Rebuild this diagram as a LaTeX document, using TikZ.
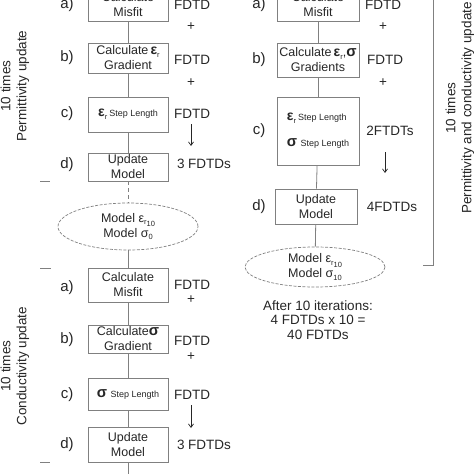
\documentclass[tikz,border=0pt]{standalone}
\usepackage{fontspec}
\setmainfont{Liberation Sans}
\usetikzlibrary{arrows.meta,shapes.geometric}
\definecolor{txt}{gray}{0.15}
\definecolor{linegray}{gray}{0.5}
\newcommand\myboxfont{\fontsize{12.5}{15}\selectfont}
\newcommand\mylabfont{\fontsize{15}{18}\selectfont}
\newcommand\myfdfont{\fontsize{13.5}{15}\selectfont}
\newcommand\mysmall{\fontsize{9}{10}\selectfont}
\newcommand\myeps{{\fontsize{14}{15}\selectfont\textbf{ε}}}
\newcommand\mysig{{\fontsize{15}{15}\selectfont\textbf{σ}}}
\newcommand\mysub[1]{\raisebox{-0.45ex}{\fontsize{7.5}{8}\selectfont #1}}
\begin{document}
\begin{tikzpicture}[x=1pt,y=-1pt,
  box/.style={draw=linegray, line width=0.8pt, minimum width=80pt, inner sep=1pt, align=center, font=\myboxfont, text=txt},
  lab/.style={font=\mylabfont, text=txt, inner sep=0pt},
  fd/.style={font=\myfdfont, text=txt, inner sep=0pt},
  conn/.style={draw=linegray, line width=0.8pt},
  tick/.style={draw=linegray, line width=0.8pt},
  arr/.style={draw=txt, line width=0.7pt, -{Straight Barb[length=3.5pt,width=5pt]}},
  ell/.style={ellipse, draw=linegray, line width=0.7pt, dash pattern=on 3pt off 1.5pt, inner sep=0pt, align=center, font=\myboxfont, text=txt},
  rot/.style={rotate=90, align=center, font=\fontsize{13.5}{16}\selectfont, text=txt, inner sep=0pt}
]
\clip (0,0) rectangle (474,474);
\useasboundingbox (0,0) rectangle (474,474);

% ---------- left column ----------
\node[box, minimum height=32pt] (a1) at (128,5) {Calculate\\Misfit};
\node[lab] (la1) at (67,5) {a)};
\node[fd] (fa1) at (192,5) {FDTD};
\node[fd] (pa1) at (191,27) {+};

\node[box, minimum height=30pt] (b1) at (128,58) {Calculate\,\myeps\mysub{r}\\Gradient};
\node[lab] (lb1) at (67,58) {b)};
\node[fd] (fb1) at (192,60) {FDTD};
\node[fd] (pb1) at (191,83) {+};

\node[box, minimum height=35pt] (c1) at (128,114.5) {\myeps\mysub{r}\,{\mysmall Step Length}};
\node[lab] (lc1) at (67,114) {c)};
\node[fd] (fc1) at (192,114) {FDTD};
\coordinate (ar1s) at (191,124);
\coordinate (ar1e) at (191,146);

\node[box, minimum height=28pt] (d1) at (128,167) {Update\\Model};
\node[lab] (ld1) at (67,165) {d)};
\node[fd] (fd1) at (204,164) {3 FDTDs};

\node[ell, minimum width=140pt, minimum height=47pt] (e1) at (128,226.5)
  {Model ε\mysub{r\mysub{10}}\\Model σ\mysub{0}};

\node[box, minimum height=34pt] (a2) at (128,285) {Calculate\\Misfit};
\node[lab] (la2) at (67,288) {a)};
\node[fd] (fa2) at (192,285) {FDTD};
\node[fd] (pa2) at (191,300) {+};

\node[box, minimum height=28pt] (b2) at (128,339) {Calculate\mysig\\Gradient};
\node[lab] (lb2) at (67,340) {b)};
\node[fd] (fb2) at (192,341) {FDTD};
\node[fd] (pb2) at (191,357) {+};

\node[box, minimum height=32pt] (c2) at (128,394) {\mysig\ {\mysmall Step Length}};
\node[lab] (lc2) at (67,395) {c)};
\node[fd] (fc2) at (192,395) {FDTD};
\coordinate (ar2s) at (191,405);
\coordinate (ar2e) at (191,428);

\node[box, minimum height=35pt] (d2) at (128,444.5) {Update\\Model};
\node[lab] (ld2) at (67,445) {d)};
\node[fd] (fd2) at (204,445) {3 FDTDs};
\coordinate (bot) at (128,480);

\draw[conn] (a1) -- (b1);
\draw[conn] (b1) -- (c1);
\draw[conn] (c1) -- (d1);
\draw[conn, dash pattern=on 4pt off 3pt] (d1) -- (e1);
\draw[conn] (e1) -- (a2);
\draw[conn] (a2) -- (b2);
\draw[conn] (b2) -- (c2);
\draw[conn] (c2) -- (d2);
\draw[conn] (d2) -- (bot);
\draw[arr] (ar1s) -- (ar1e);
\draw[arr] (ar2s) -- (ar2e);

% left ticks
\coordinate (t1a) at (40,181); \coordinate (t1b) at (50,181);
\coordinate (t2a) at (40,268); \coordinate (t2b) at (51,268);
\coordinate (t3a) at (40,462); \coordinate (t3b) at (50,462);
\draw[tick] (t1a) -- (t1b);
\draw[tick] (t2a) -- (t2b);
\draw[tick] (t3a) -- (t3b);

\node[rot] (r1) at (15,86) {10 times\\Permittivity update};
\node[rot] (r2) at (15,366) {10 times\\Conductivity update};

% ---------- right column ----------
\node[box, minimum width=82pt, minimum height=32pt] (a3) at (318,5) {Calculate\\Misfit};
\node[lab] (la3) at (259,5) {a)};
\node[fd] (fa3) at (383,5) {FDTD};
\node[fd] (pa3) at (383,27) {+};

\node[box, minimum width=82pt, minimum height=34pt, inner sep=0pt] (b3) at (318,60)
  {Calculate\,\myeps\mysub{r},\mysig\\Gradients};
\node[lab] (lb3) at (259,60) {b)};
\node[fd] (fb3) at (385,60) {FDTD};
\node[fd] (pb3) at (383,83) {+};

\node[box, minimum width=82pt, minimum height=68pt, align=left] (c3) at (318,131)
  {\myeps\mysub{r}\,{\mysmall Step Length}\\[11pt]\mysig\ {\mysmall Step Length}};
\node[lab] (lc3) at (259,131) {c)};
\node[fd] (fc3) at (390,131) {2FTDTs};
\coordinate (ar3s) at (385,152);
\coordinate (ar3e) at (385,173);

\node[box, minimum width=82pt, minimum height=35pt] (d3) at (316,206.5) {Update\\Model};
\node[lab] (ld3) at (259,207) {d)};
\node[fd] (fd3) at (392,207) {4FDTDs};

\node[ell, minimum width=140pt, minimum height=40pt] (e3) at (315,267)
  {Model ε\mysub{r\mysub{10}}\\Model σ\mysub{10}};

\node[fd, align=center, font=\fontsize{13.5}{14.5}\selectfont] (after) at (318,320)
  {After 10 iterations:\\4 FDTDs x 10 =\\40 FDTDs};

\draw[conn] (a3) -- (b3);
\draw[conn] (b3) -- (c3);
\draw[conn] (c3) -- (d3);
\draw[conn] (d3) -- (e3);
\draw[arr] (ar3s) -- (ar3e);

\coordinate (brt) at (433,-5);
\coordinate (brb) at (433,265);
\coordinate (brl) at (423,265);
\draw[tick] (brt) -- (brb) -- (brl);

\node[rot] (r3) at (460,108) {10 times\\Permittivity and conductivity update};
\end{tikzpicture}
\end{document}
